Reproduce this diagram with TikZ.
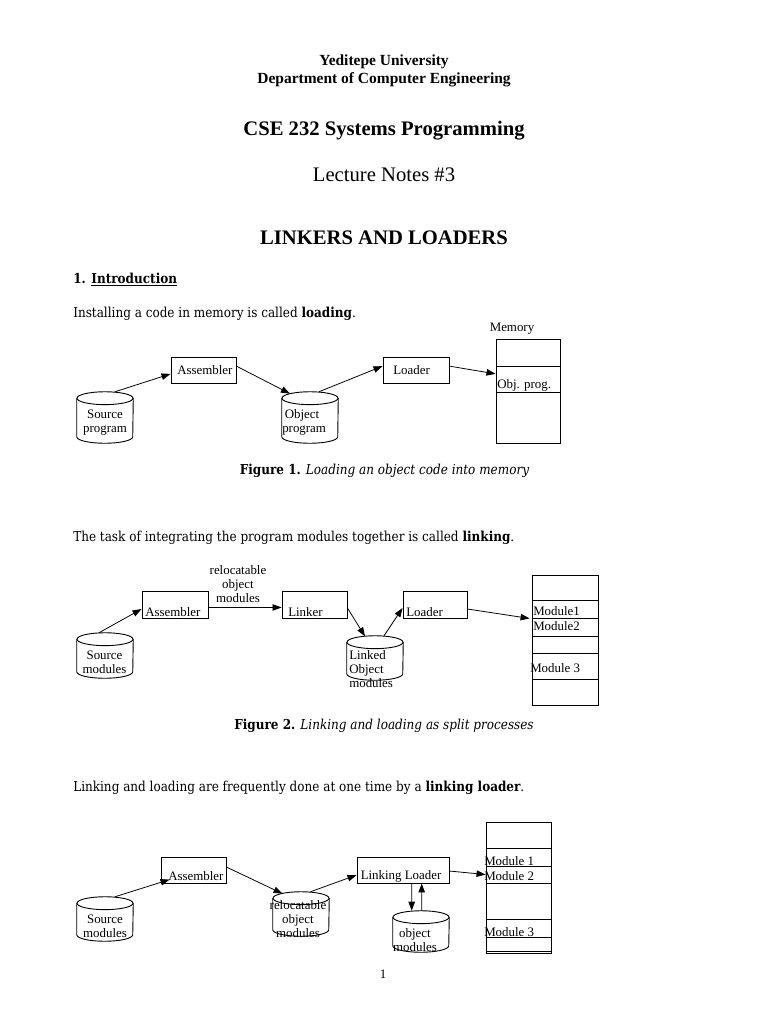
\documentclass[tikz,border=0pt]{standalone}
\usepackage{fontspec}
\setmainfont{Liberation Serif}
\newfontfamily\bodyfont[FakeStretch=0.88]{DejaVu Serif}
\usetikzlibrary{arrows.meta,fit}
\newcommand\drawdisk[1]{%
  \draw[line width=0.7pt] ([yshift=-5pt]#1.north west) -- ([yshift=5pt]#1.south west)
    arc[start angle=180,end angle=360,x radius=21.7pt,y radius=5pt] -- ([yshift=-5pt]#1.north east);
  \draw[line width=0.7pt] ([yshift=-5pt]#1.north) ellipse[x radius=21.7pt,y radius=5pt];}
\begin{document}
\begin{tikzpicture}[x=0.775pt,y=-0.775pt,
  box/.style={draw,line width=0.7pt,inner sep=0},
  disk/.style={inner sep=0},
  lbl/.style={inner sep=0,align=center,yshift=-1pt,font=\fontsize{10}{11}\selectfont},
  txt/.style={inner sep=0,anchor=west,yshift=-1.5pt,font=\bodyfont\fontsize{10.6}{12}\selectfont},
  arr/.style={line width=0.6pt,-{Triangle[length=7pt,width=5pt]}}]
\useasboundingbox (0,0) rectangle (768,1024);
% heading
\node[font=\bfseries\fontsize{12}{13.8}\selectfont,align=center] (uni) at (384,71) {Yeditepe University\\Department of Computer Engineering};
\node[font=\bfseries\fontsize{16}{18}\selectfont] (course) at (384,131) {CSE 232 Systems Programming};
\node[font=\fontsize{16}{18}\selectfont] (notes) at (384,174.5) {Lecture Notes \#3};
\node[font=\bfseries\fontsize{16}{18}\selectfont] (title) at (384,237.5) {LINKERS AND LOADERS};
\node[txt] (sec) at (73,278) {\textbf{1. \underline{Introduction}}};
\node[txt] (p1) at (73,312) {Installing a code in memory is called \textbf{loading}.};

% figure 1
\node[lbl] (memlab) at (512,327) {Memory};
\foreach \a/\b [count=\i] in {339/366,366/392,392/443}
  \node[box,fit={(496,\a) (560,\b)}] (mem1-\i) {};
\node[lbl,anchor=west] (tmem1) at (497,384) {Obj. prog.};
\node[box,fit={(171,357) (236,383)}] (asm1) {};
\node[lbl,anchor=west] (tasm1) at (177,369) {Assembler};
\node[box,fit={(383,357) (449,383)}] (ld1) {};
\node[lbl,anchor=west] (tld1) at (393,369) {Loader};
\node[disk,fit={(77,392) (133,443)}] (src1) {};
\drawdisk{src1}
\node[lbl] (tsrc1) at (105,421) {Source\\program};
\node[disk,fit={(282,392) (338,443)}] (obj1) {};
\drawdisk{obj1}
\node[lbl,align=left,anchor=west] (tobj1) at (282,421) {\hspace{2pt}Object\\program};
\draw[arr] ([xshift=7.75pt]src1.north) -- ([yshift=-3pt]asm1.west);
\draw[arr] ([yshift=3pt]asm1.east) -- ([xshift=-15.5pt,yshift=-1.5pt]obj1.north);
\draw[arr] ([xshift=7pt]obj1.north) -- ([yshift=3pt]ld1.west);
\draw[arr] ([yshift=3pt]ld1.east) -- ([yshift=4pt]mem1-2.west);
\node[txt,anchor=center] (cap1) at (384.5,469) {\textbf{Figure 1.} \textit{Loading an object code into memory}};

\node[txt] (p2) at (73,536) {The task of integrating the program modules together is called \textbf{linking}.};

% figure 2
\foreach \a/\b [count=\i] in {575/600,600/618,618/636,636/653,653/679,679/705}
  \node[box,fit={(532,\a) (598,\b)}] (mem2-\i) {};
\node[lbl,anchor=west] (tmod21) at (533,610) {Module1};
\node[lbl,anchor=west] (tmod22) at (533,625) {Module2};
\node[lbl,anchor=west] (tmod23) at (530,667) {Module 3};
\node[box,fit={(142,591) (208,618)}] (asm2) {};
\node[lbl,anchor=west] (tasm2) at (145,611) {Assembler};
\node[box,fit={(282,591) (347,618)}] (lnk) {};
\node[lbl,anchor=west] (tlnk) at (288,611) {Linker};
\node[box,fit={(403,591) (467,618)}] (ld2) {};
\node[lbl,anchor=west] (tld2) at (406,611) {Loader};
\node[lbl] (relab) at (238,583) {relocatable\\object\\modules};
\node[disk,fit={(77,633) (133,678)}] (src2) {};
\drawdisk{src2}
\node[lbl] (tsrc2) at (104.5,661) {Source\\modules};
\node[disk,fit={(347,636) (403,680)}] (lkd) {};
\drawdisk{lkd}
\node[lbl,align=left,anchor=west] (tlkd) at (349,668) {Linked\\Object\\modules};
\draw[arr] ([xshift=-4.6pt]src2.north) -- ([yshift=-3.5pt]asm2.west);
\draw[arr] ([yshift=-2.3pt]asm2.east) -- ([yshift=-2.3pt]lnk.west);
\draw[arr] ([yshift=-2.7pt]lnk.east) -- ([xshift=-7.75pt,yshift=-0.5pt]lkd.north);
\draw[arr] ([xshift=7pt]lkd.north) -- ([yshift=-2.7pt]ld2.west);
\draw[arr] ([yshift=-3.5pt]ld2.east) -- ([xshift=-1.5pt]mem2-2.south west);
\node[txt,anchor=center] (cap2) at (384,724) {\textbf{Figure 2.} \textit{Linking and loading as split processes}};

\node[txt] (p3) at (73,786) {Linking and loading are frequently done at one time by a \textbf{linking loader}.};

% figure 3
\foreach \a/\b [count=\i] in {822/848,848/866,866/883,883/919,919/937,937/951,951/953}
  \node[box,fit={(486,\a) (551,\b)}] (mem3-\i) {};
\node[lbl,anchor=west] (tmod31) at (484,860) {Module 1};
\node[lbl,anchor=west] (tmod32) at (484,875) {Module 2};
\node[lbl,anchor=west] (tmod33) at (484,931) {Module 3};
\node[box,fit={(161,857) (226,883)}] (asm3) {};
\node[lbl,anchor=west] (tasm3) at (168,875) {Assembler};
\node[box,fit={(357,857) (449,883)}] (ll) {};
\node[lbl,anchor=west] (tll) at (360.5,875) {Linking Loader};
\node[disk,fit={(77,897) (133,941)}] (src3) {};
\drawdisk{src3}
\node[lbl] (tsrc3) at (105,925) {Source\\modules};
\node[disk,fit={(273,892) (329,936)}] (rel) {};
\drawdisk{rel}
\node[lbl] (trel) at (298,917.5) {relocatable\\object\\modules};
\node[disk,fit={(393,911) (449,952)}] (obj3) {};
\drawdisk{obj3}
\node[lbl] (tobj3) at (415,939) {object\\modules};
\draw[arr] ([xshift=7.75pt]src3.north) -- ([xshift=7pt,yshift=3pt]asm3.south west);
\draw[arr] ([yshift=2.3pt]asm3.east) -- ([xshift=-14.3pt,yshift=-1.5pt]rel.north);
\draw[arr] ([xshift=7.4pt]rel.north) -- ([yshift=-3.9pt]ll.west);
\draw[arr] ([yshift=-0.8pt]ll.east) -- (mem3-3.west);
\draw[arr] ([xshift=6.74pt]ll.south) -- ([xshift=-7.21pt]obj3.north);
\draw[arr] ([xshift=0.54pt]obj3.north) -- ([xshift=14.49pt]ll.south);

\node[font=\fontsize{10}{12}\selectfont] (pg) at (383,974) {1};
\end{tikzpicture}
\end{document}
